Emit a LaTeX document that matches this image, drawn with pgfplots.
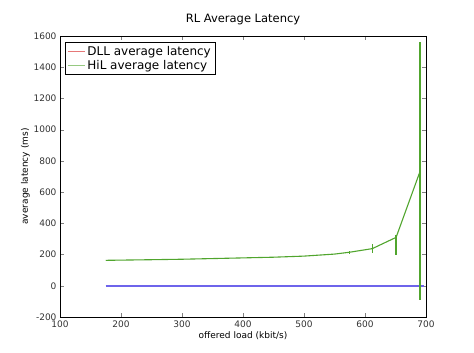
\documentclass[border=0pt]{standalone}
\usepackage{pgfplots}
\pgfplotsset{compat=1.18}
\usepackage{fontspec}
\setmainfont{DejaVu Sans}
\definecolor{hilgreen}{RGB}{80,165,45}
\definecolor{dllblue}{RGB}{110,100,235}
\definecolor{legred}{RGB}{230,120,120}
\begin{document}
\begin{tikzpicture}[x=1pt,y=1pt]
\path[use as bounding box] (0,0) rectangle (474,353);
\begin{axis}[
  at={(60pt,36pt)}, anchor=south west,
  scale only axis, width=366pt, height=281pt,
  xmin=100, xmax=700, ymin=-200, ymax=1600,
  xtick={100,200,...,700}, ytick={-200,0,...,1600},
  tick align=inside, tick pos=both,
  /pgf/number format/assume math mode=true,
  /pgf/number format/1000 sep={},
  tick label style={font=\fontsize{9}{10}\selectfont, color=black!80},
  title={RL Average Latency},
  title style={font=\fontsize{11.5}{13}\selectfont, yshift=2pt},
  xlabel={offered load (kbit/s)},
  ylabel={average latency (ms)},
  label style={font=\fontsize{9}{10}\selectfont},
  xlabel style={yshift=3pt},
  ylabel style={yshift=-3pt},
  legend style={at={(0.014,0.978)}, anchor=north west, font=\fontsize{12}{13}\selectfont, draw=black, inner sep=2pt, row sep=-1pt},
  legend cell align=left,
  axis line style={black},
]
\addplot[draw=dllblue, line width=1.6pt, mark=none, legend image code/.code={\draw[draw=legred, line width=1pt] (0cm,0cm) -- (0.6cm,0cm);}] coordinates {
(175,0) (250,0) (300,0) (370,0) (450,0) (500,0) (550,0) (575,0) (612,0) (651,0) (690,0) (697,0)
};
\addlegendentry{DLL average latency}
\addplot[draw=hilgreen, line width=1.1pt, mark=none,
  legend image code/.code={\draw[draw=hilgreen!60, line width=1pt] (0cm,0cm) -- (0.6cm,0cm);},
  error bars/.cd, y dir=both, y explicit, error mark=none,
  error bar style={line width=1.3pt, draw=hilgreen}]
  table[x=x, y=y, y error plus=ep, y error minus=em] {
x y ep em
175 163 0 0
250 167 0 0
300 170 0 0
370 176 0 0
450 183 0 0
500 190 0 0
550 203 0 0
575 215 10 12
612 238 30 27
651 310 15 112
690 730 832 820
};
\addlegendentry{HiL average latency}
\end{axis}
\end{tikzpicture}
\end{document}
